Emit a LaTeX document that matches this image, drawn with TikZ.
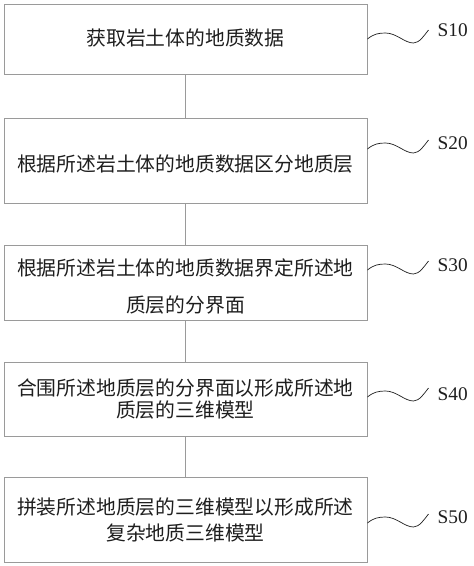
\documentclass[tikz,border=0pt]{standalone}
\usepackage{fontspec}
\setmainfont{Liberation Serif}
\newfontfamily\cjk{Noto Sans CJK SC}
\definecolor{boxgray}{HTML}{9A9A9A}
\definecolor{txt}{HTML}{1E1E1E}
\begin{document}
\begin{tikzpicture}[x=1pt,y=-1pt,
  stepbox/.style={draw=boxgray,line width=1pt,rectangle,minimum width=363pt,inner sep=0pt},
  steptext/.style={font=\cjk\fontsize{19.8}{23}\selectfont,text=txt,align=center,inner sep=0pt},
  steplabel/.style={font=\fontsize{19.3}{23}\selectfont,text=txt,anchor=west,inner sep=0pt},
  link/.style={draw=boxgray,line width=1pt},
  wave/.style={draw=txt,line width=0.7pt}]
\useasboundingbox (0,0) rectangle (474,566);
\node[stepbox,minimum height=70pt] (b1) at (185.5,39) {};
\node[stepbox,minimum height=85pt] (b2) at (185.5,160.5) {};
\node[stepbox,minimum height=75pt] (b3) at (185.5,282.5) {};
\node[stepbox,minimum height=74pt] (b4) at (185.5,399) {};
\node[stepbox,minimum height=85pt] (b5) at (185.5,519.5) {};
\node[steptext] (t1) at (185.5,38) {获取岩土体的地质数据};
\node[steptext] (t2) at (185.5,164) {根据所述岩土体的地质数据区分地质层};
\node[steptext] (t3) at (185.5,286.5) {根据所述岩土体的地质数据界定所述地\\[14pt]质层的分界面};
\node[steptext] (t4) at (185.5,399) {合围所述地质层的分界面以形成所述地\\[-1pt]质层的三维模型};
\node[steptext] (t5) at (185.5,520) {拼装所述地质层的三维模型以形成所述\\[3pt]复杂地质三维模型};
\draw[link] (b1.south) -- (b2.north);
\draw[link] (b2.south) -- (b3.north);
\draw[link] (b3.south) -- (b4.north);
\draw[link] (b4.south) -- (b5.north);
\foreach \i/\ys/\ly in {1/39/30,2/149/143,3/270/265,4/397/394,5/523/517}{
  \node[steplabel] (l\i) at (437.5,\ly) {S\i0};
  \coordinate (w\i) at (367.5,\ys);
  \draw[wave] (w\i) .. controls +(6,-5) and +(-7,0) .. ++(18,-6)
    .. controls +(11,0) and +(-9,0) .. ++(28,10)
    .. controls +(6,0) and +(-4,5) .. ++(15,-13);
}
\end{tikzpicture}
\end{document}
